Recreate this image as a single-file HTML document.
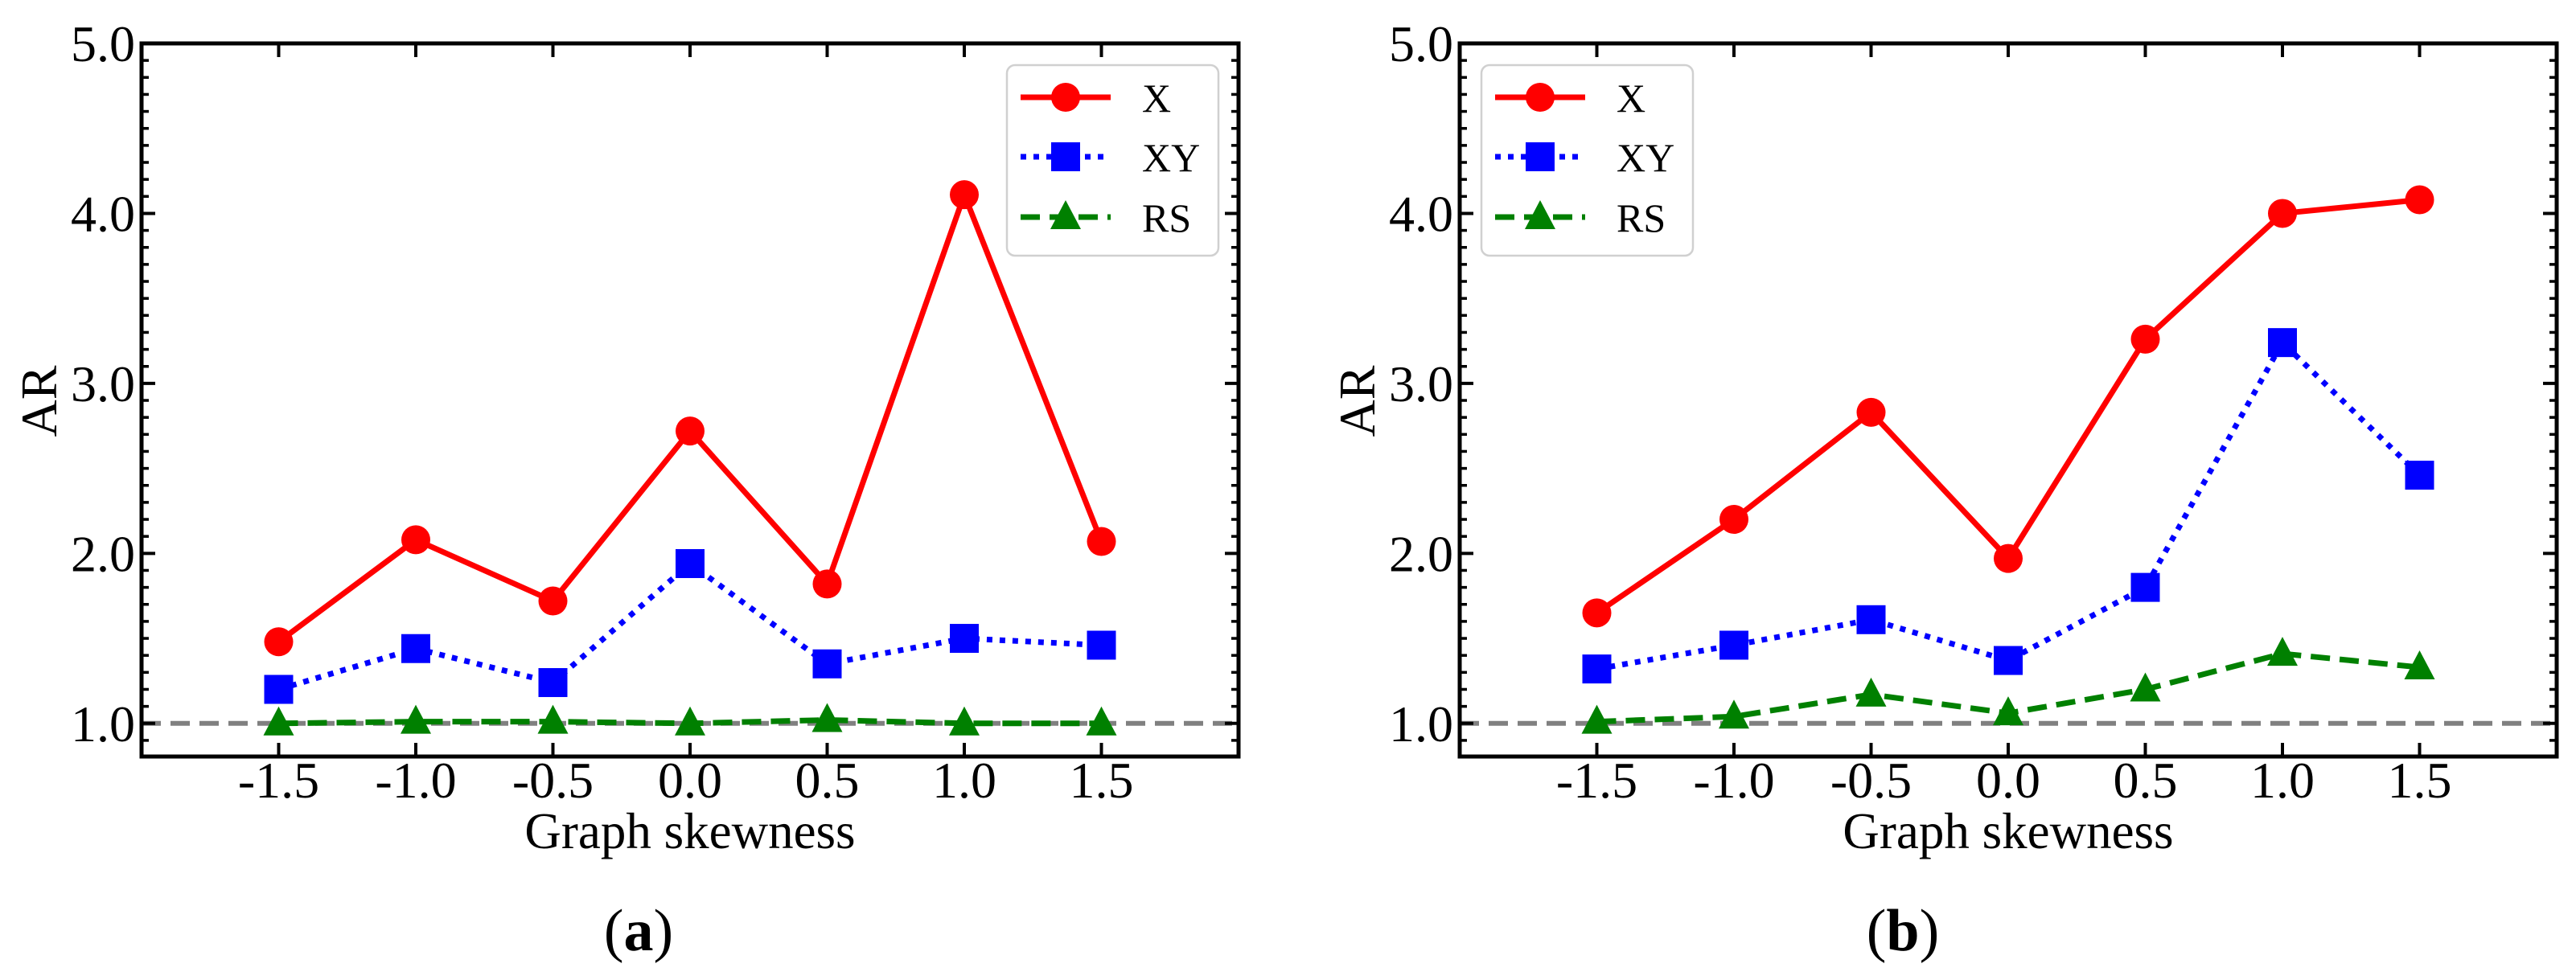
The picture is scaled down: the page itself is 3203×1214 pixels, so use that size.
<!DOCTYPE html>
<html><head><meta charset="utf-8"><style>
html,body{margin:0;padding:0;background:#fff;}
svg{display:block;font-family:"Liberation Serif",serif;}
</style></head><body>
<svg id="chart" width="3203" height="1214" viewBox="0 0 3203 1214" xmlns="http://www.w3.org/2000/svg"></svg>
<script>
const categories = [-1.5, -1.0, -0.5, 0.0, 0.5, 1.0, 1.5];
const xTickLabels = ["-1.5", "-1.0", "-0.5", "0.0", "0.5", "1.0", "1.5"];
const yTickValues = [1, 2, 3, 4, 5];
const yTickLabels = ["1.0", "2.0", "3.0", "4.0", "5.0"];
const seriesNames = ["X", "XY", "RS"];
const aX = [1.48, 2.08, 1.72, 2.72, 1.82, 4.11, 2.07];
const aXY = [1.20, 1.44, 1.24, 1.94, 1.35, 1.50, 1.46];
const aRS = [1.00, 1.01, 1.01, 1.00, 1.02, 1.00, 1.00];
const bX = [1.65, 2.20, 2.83, 1.97, 3.26, 4.00, 4.08];
const bXY = [1.32, 1.46, 1.61, 1.37, 1.80, 3.24, 2.46];
const bRS = [1.01, 1.04, 1.17, 1.06, 1.20, 1.41, 1.33];
const refLine = 1.0;

const NS = "http://www.w3.org/2000/svg";
const svg = document.getElementById('chart');
function mk(tag, attrs, parent) {
  const e = document.createElementNS(NS, tag);
  for (const k in attrs) e.setAttribute(k, attrs[k]);
  (parent || svg).appendChild(e);
  return e;
}
const styles = [
  {color:'#ff0000', dash:'', marker:'circle'},
  {color:'#0000ff', dash:'7 9', marker:'square'},
  {color:'#008000', dash:'24 12', marker:'triangle'}
];
function marker(g, type, cx, cy, color) {
  let m;
  if (type === 'circle') m = mk('ellipse', {cx:cx, cy:cy, rx:18, ry:18, fill:color}, g);
  else if (type === 'square') m = mk('rect', {x:cx-18, y:cy-18, width:36, height:36, fill:color}, g);
  else m = mk('polygon', {points:`${cx},${cy-21} ${cx+19},${cy+15} ${cx-19},${cy+15}`, fill:color}, g);
  return m;
}
function panel(id, left, series, legendX, label, labelX) {
  const top = 54, bottom = 941, right = left + 1364;
  const xMin = -2, xMax = 2, yMin = 0.805, yMax = 5.0;
  const xs = v => left + (v - xMin) / (xMax - xMin) * (right - left);
  const ys = v => bottom - (v - yMin) / (yMax - yMin) * (bottom - top);
  const g = mk('g', {});
  
  
  const rl = mk('line', {x1:left, x2:right, y1:ys(refLine), y2:ys(refLine), stroke:'#808080', 'stroke-width':6, 'stroke-dasharray':'24 12'}, g);
  
  
  series.forEach((vals, si) => {
    const st = styles[si];
    const sg = mk('g', {}, g);
    
    
    const pts = vals.map((v, i) => xs(categories[i]) + ',' + ys(v)).join(' ');
    const pl = mk('polyline', {points:pts, fill:'none', stroke:st.color, 'stroke-width':7, 'stroke-linejoin':'round'}, sg);
    if (st.dash) pl.setAttribute('stroke-dasharray', st.dash);
    vals.forEach((v, i) => {
      const m = marker(sg, st.marker, xs(categories[i]), ys(v), st.color);
      
      
    });
  });
  const fr = mk('rect', {x:left, y:top, width:right-left, height:bottom-top, fill:'none', stroke:'#000', 'stroke-width':5}, g);
  
  
  for (let k = 9; k <= 50; k++) {
    const v = k / 10, y = ys(v);
    const major = k % 10 === 0;
    const L = major ? 17 : 9;
    mk('line', {x1:left, x2:left+L, y1:y, y2:y, stroke:'#000', 'stroke-width':major?4:3.5}, g);
    mk('line', {x1:right, x2:right-L, y1:y, y2:y, stroke:'#000', 'stroke-width':major?4:3.5}, g);
  }
  yTickValues.forEach((v, i) => {
    const t = mk('text', {x:left-8, y:ys(v)+22, 'text-anchor':'end', 'font-size':64}, g);
    t.textContent = yTickLabels[i];
    
    
  });
  categories.forEach((c, i) => {
    const x = xs(c);
    mk('line', {x1:x, x2:x, y1:bottom, y2:bottom-17, stroke:'#000', 'stroke-width':4}, g);
    mk('line', {x1:x, x2:x, y1:top, y2:top+17, stroke:'#000', 'stroke-width':4}, g);
    const t = mk('text', {x:x, y:992, 'text-anchor':'middle', 'font-size':64}, g);
    t.textContent = xTickLabels[i];
    
    
  });
  const xt = mk('text', {x:(left+right)/2, y:1055, 'text-anchor':'middle', 'font-size':63}, g);
  xt.textContent = 'Graph skewness';
  
  
  const yt = mk('text', {x:0, y:0, 'text-anchor':'middle', 'font-size':64, transform:`translate(${left-106},499) rotate(-90)`}, g);
  yt.textContent = 'AR';
  
  
  const lg = mk('g', {}, g);
  
  
  mk('rect', {x:legendX, y:81, width:263, height:237, rx:10, fill:'#fff', 'fill-opacity':0.8, stroke:'#d0d0d0', 'stroke-width':2.5}, lg);
  const ly = [121, 195, 270];
  seriesNames.forEach((n, i) => {
    const eg = mk('g', {}, lg);
    
    
    const st = styles[i];
    const ln = mk('line', {x1:legendX+17, x2:legendX+129, y1:ly[i], y2:ly[i], stroke:st.color, 'stroke-width':7}, eg);
    if (st.dash) ln.setAttribute('stroke-dasharray', st.dash);
    marker(eg, st.marker, legendX+73, ly[i], st.color);
    const t = mk('text', {x:legendX+168, y:ly[i]+18, 'font-size':50}, eg);
    t.textContent = n;
  });
  const cap = mk('text', {x:labelX, y:1182, 'text-anchor':'middle', 'font-size':74}, g);
  
  
  cap.innerHTML = '(<tspan font-weight="bold">' + label + '</tspan>)';
}
panel('a', 176, [aX, aXY, aRS], 1252, 'a', 794);
panel('b', 1815, [bX, bXY, bRS], 1842, 'b', 2366);
</script>
</body></html>
